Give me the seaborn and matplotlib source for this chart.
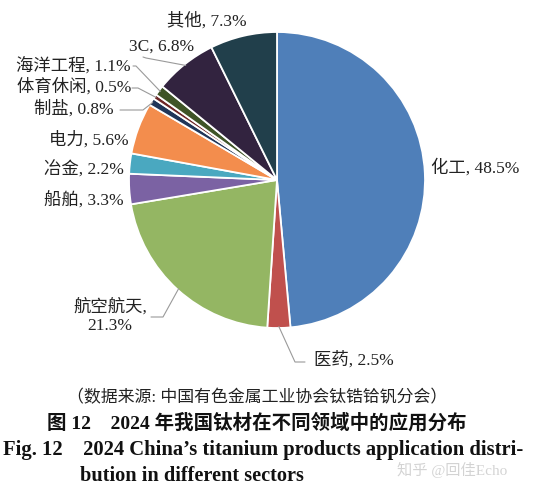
import numpy as np
import matplotlib.pyplot as plt
import seaborn as sns

# 数据
sectors = ['化工', '医药', '航空航天', '船舶', '冶金', '电力', '制盐', '体育休闲', '海洋工程', '3C', '其他']
shares = [48.5, 2.5, 21.3, 3.3, 2.2, 5.6, 0.8, 0.5, 1.1, 6.8, 7.3]
colors = ['#4f7fb9', '#c0504d', '#94b663', '#7b62a3', '#4aa8c0', '#f38d4d',
          '#203659', '#6e2626', '#3f5427', '#32233f', '#213f4b']

W, H = 543, 486

sns.set_theme(style='white')
plt.rcParams['font.family'] = ['Liberation Serif', 'Noto Sans CJK SC']

fig = plt.figure(figsize=(W / 100, H / 100), dpi=100)
ax = fig.add_axes([0, 0, 1, 1])


def py(y):
    # 像素坐标(自上而下) -> 轴坐标
    return H - y


cx, cy, r = 277, py(180), 148
wedges, _ = ax.pie(shares, colors=colors, startangle=90, counterclock=False,
                   center=(cx, cy), radius=r, frame=True,
                   wedgeprops=dict(edgecolor='white', linewidth=1.3))
ax.set_xlim(0, W)
ax.set_ylim(0, H)
ax.set_aspect('equal')
ax.axis('off')


def edge_point(i, frac=1.0):
    w = wedges[i]
    a = np.deg2rad((w.theta1 + w.theta2) / 2)
    return cx + r * frac * np.cos(a), cy + r * frac * np.sin(a)


fs = 12.5
tc = '#222222'
# 标签位置 (x, y, ha)
label_pos = {
    '化工': (431, 168, 'left'),
    '医药': (314, 360, 'left'),
    '船舶': (124, 200, 'right'),
    '冶金': (124, 170, 'right'),
    '电力': (129, 140, 'right'),
    '制盐': (114, 109, 'right'),
    '体育休闲': (131, 87, 'right'),
    '海洋工程': (131, 67, 'right'),
    '3C': (194, 47, 'right'),
    '其他': (247, 21, 'right'),
}
for i, name in enumerate(sectors):
    if name == '航空航天':
        ax.text(110, py(316), f'{name},\n{shares[i]}%', ha='center', va='center',
                fontsize=fs, linespacing=1.2, color=tc)
        continue
    x, y, ha = label_pos[name]
    ax.text(x, py(y), f'{name}, {shares[i]}%', ha=ha, va='center', fontsize=fs, color=tc)

# 引导线 (文字端 -> 拐点 -> 扇区)
lc = '#9a9a9a'
leaders = {
    '医药': [(305, 362), (295, 362)],
    '航空航天': [(151, 317), (163, 317)],
    '制盐': [(120, 110), (143, 110)],
    '体育休闲': [(132, 88), (138, 88)],
    '海洋工程': [(133, 66), (136, 66)],
    '3C': [(143, 57), (146, 58)],
}
for name, pts in leaders.items():
    i = sectors.index(name)
    ex, ey = edge_point(i, 0.99)
    xs = [p[0] for p in pts] + [ex]
    ys = [py(p[1]) for p in pts] + [ey]
    ax.plot(xs, ys, color=lc, lw=0.8)

# 图注
ax.text(257, py(398), '（数据来源: 中国有色金属工业协会钛锆铪钒分会）', ha='center', va='center',
        fontsize=12.2, color=tc)
ax.text(257, py(423), '图 12　2024 年我国钛材在不同领域中的应用分布', ha='center', va='center',
        fontsize=14, fontweight='bold', color='#111111')
ax.text(3, py(450), 'Fig. 12    2024 China’s titanium products application distri-', ha='left',
        va='center', fontsize=14.9, fontweight='bold', color='#111111')
ax.text(80, py(476), 'bution in different sectors', ha='left', va='center',
        fontsize=14.6, fontweight='bold', color='#111111')
ax.text(452, py(470), '知乎 @回佳Echo', ha='center', va='center', fontsize=11,
        color='#cccccc', alpha=0.85)

fig.savefig('out.png', dpi=100)
